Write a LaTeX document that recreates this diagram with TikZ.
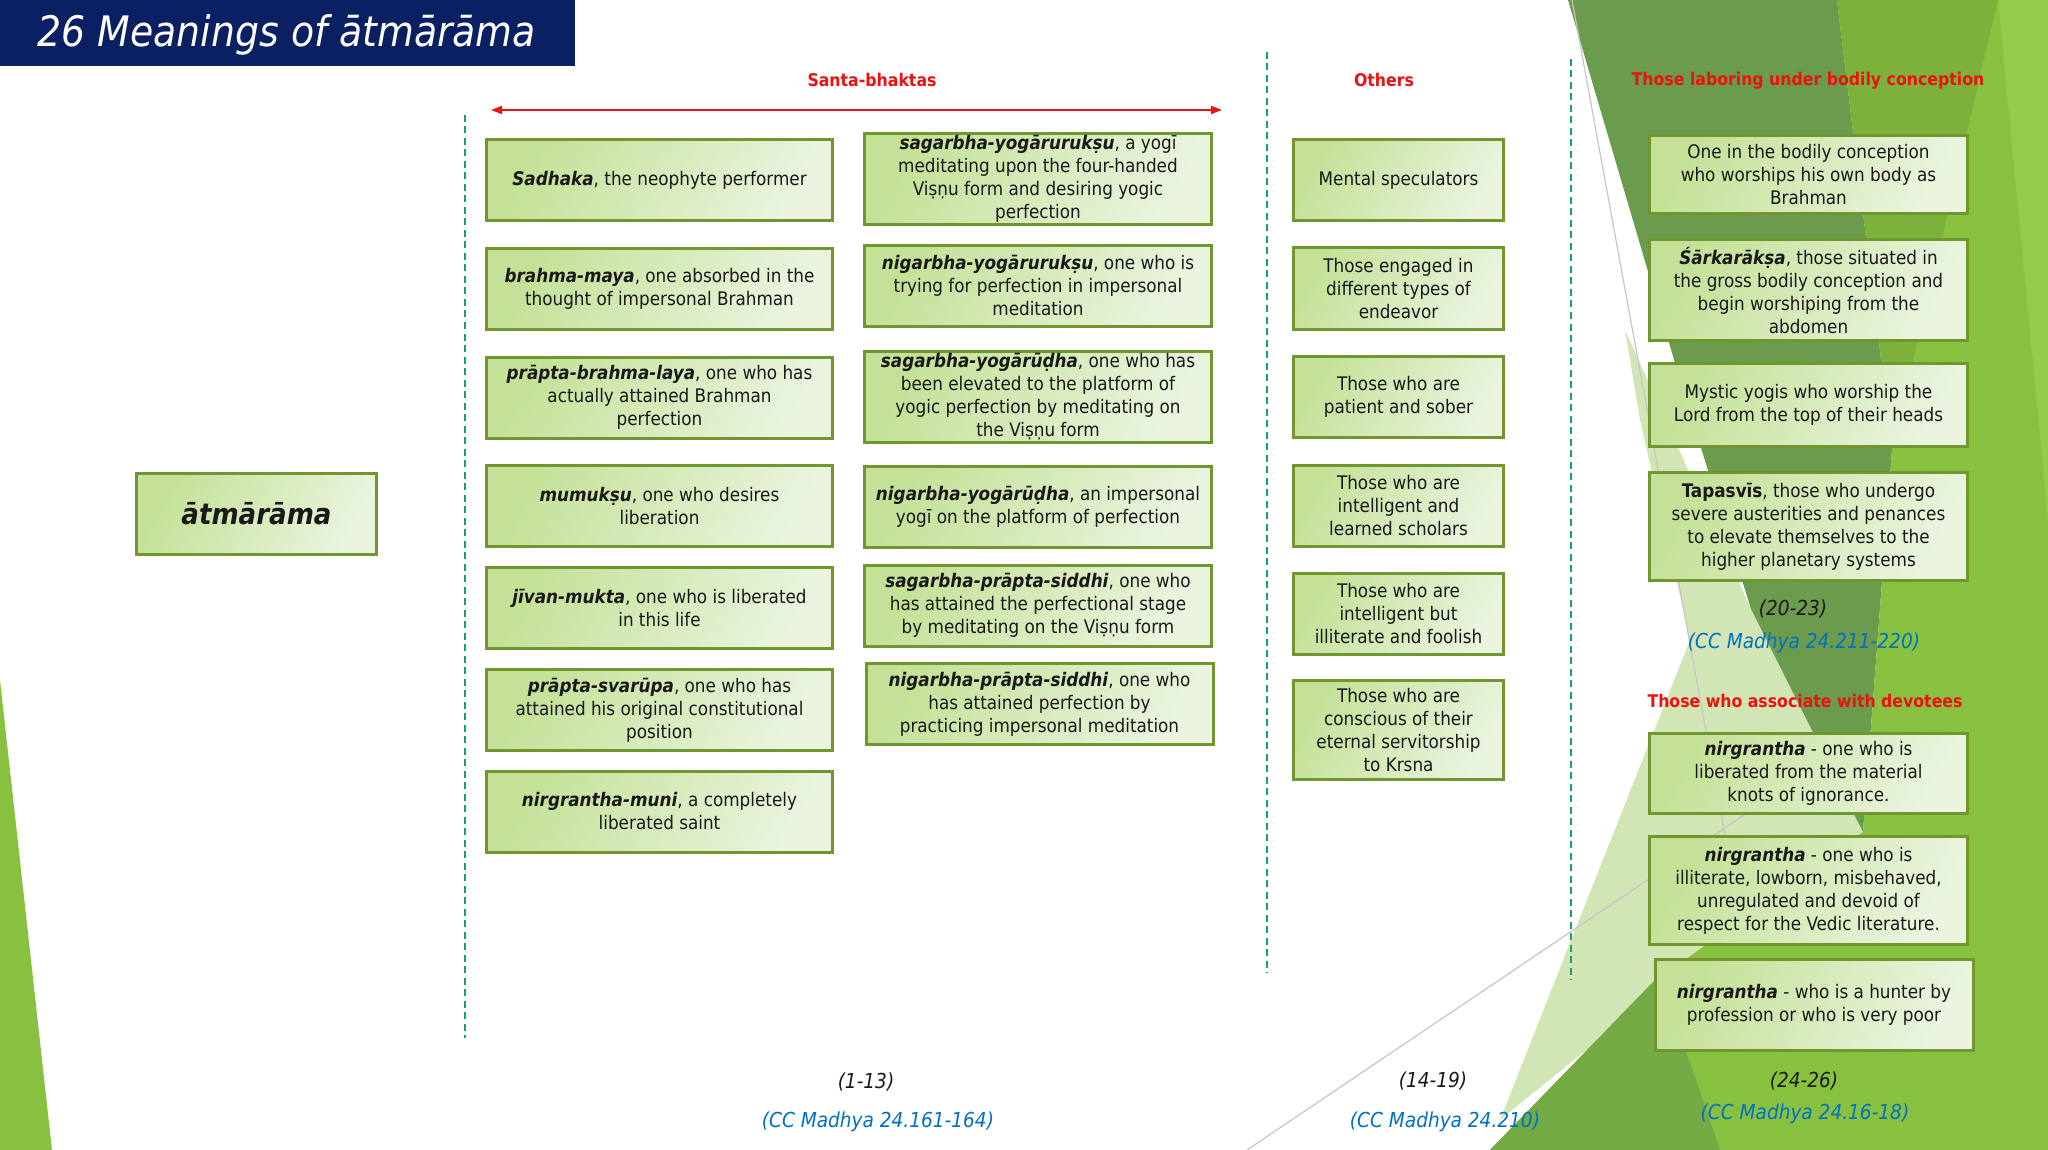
\documentclass[tikz,border=0pt]{standalone}
\usepackage{fontspec}
\IfFontExistsTF{DejaVu Sans Condensed}
 {\setmainfont{DejaVu Sans Condensed}}
 {\setmainfont{DejaVu Sans}[FakeStretch=0.9]}
\usetikzlibrary{arrows.meta}
\definecolor{navy}{HTML}{0B1F63}
\definecolor{bxborder}{HTML}{72962F}
\definecolor{bxA}{HTML}{C4E197}
\definecolor{bxB}{HTML}{EAF4DF}
\definecolor{redlbl}{HTML}{EE1111}
\definecolor{citeblue}{HTML}{0070C0}
\definecolor{dashg}{HTML}{12A56A}
\definecolor{gdark}{HTML}{6B9B4D}
\definecolor{gmid}{HTML}{7DB13C}
\definecolor{gmed}{HTML}{74AA44}
\definecolor{glime}{HTML}{88C13F}
\definecolor{glight}{HTML}{95CA4D}
\definecolor{gpale}{HTML}{D2E6B5}
\definecolor{gline}{HTML}{C6C6C6}
\newcommand{\skt}[1]{\textbf{\textit{#1}}}
\begin{document}
\begin{tikzpicture}[x=1pt,y=-1pt,
  box/.style={draw=bxborder, line width=3pt, left color=bxA, right color=bxB, shading angle=60,
    align=center, inner sep=2pt, text=black!90, font=\fontsize{18.7}{23}\selectfont},
  cola/.style={box, minimum width=346pt, minimum height=81pt},
  colb/.style={box, minimum width=347pt, minimum height=81pt},
  oth/.style={box, minimum width=210pt, minimum height=81pt},
  rgt/.style={box, minimum width=318pt},
  hdr/.style={text=redlbl, font=\fontsize{17.5}{21}\selectfont\bfseries},
  num/.style={text=black!90, font=\fontsize{20.6}{25}\selectfont\itshape},
  cit/.style={text=citeblue, font=\fontsize{20.6}{25}\selectfont\itshape},
  dline/.style={dashg, line width=2.5pt, dash pattern=on 7pt off 4.5pt},
  gray line/.style={gline, line width=1.2pt}
]
\useasboundingbox (0,0) rectangle (2048,1150);
\fill[white] (0,0) rectangle (2048,1150);

% background facets
\fill[glime] (0,680) -- (52,1150) -- (0,1150) -- cycle;
\fill[gpale] (1625,330) -- (1751,609) -- (1863,832) -- (1660,990) -- (1500,1120) -- (1575,930) -- (1690,640) -- (1640,420) -- cycle;
\fill[gdark] (1568,0) -- (1837,0) -- (1892,450) -- (1863,832) -- (1751,609) -- (1680,380) -- cycle;
\fill[glime] (1837,0) -- (2048,0) -- (2048,1150) -- (1490,1150) -- (1650,985) -- (1863,832) -- (1892,450) -- cycle;
\fill[gmid] (1837,0) -- (1998,0) -- (1892,450) -- cycle;
\fill[glight] (1998,0) -- (2048,0) -- (2048,520) -- cycle;
\fill[gmed] (1490,1150) -- (1660,975) -- (1720,1150) -- cycle;
\coordinate (g1a) at (1572,0);
\coordinate (g1b) at (1725,835);
\coordinate (g2a) at (1247,1150);
\coordinate (g2b) at (1747,813);
\draw[gray line] (g1a) -- (g1b);
\draw[gray line] (g2a) -- (g2b);

% title
\fill[navy] (0,0) rectangle (575,66);
\node[anchor=base, text=white, font=\fontsize{42}{48}\selectfont\itshape] (title) at (287,47) {26 Meanings of ātmārāma};

% dashed separators
\coordinate (d1t) at (465,115);  \coordinate (d1b) at (465,1038);
\coordinate (d2t) at (1267,52);  \coordinate (d2b) at (1267,973);
\coordinate (d3t) at (1571,59);  \coordinate (d3b) at (1571,980);
\draw[dline] (d1t) -- (d1b);
\draw[dline] (d2t) -- (d2b);
\draw[dline] (d3t) -- (d3b);

% headers
\node[hdr] (hsb) at (872,80) {Santa-bhaktas};
\node[hdr] (hoth) at (1384,80) {Others};
\node[hdr] (hbod) at (1808,81) {Those laboring under bodily conception};
\node[hdr] (hdev) at (1805,701) {Those who associate with devotees};
\coordinate (arrL) at (491,110);
\coordinate (arrR) at (1222,110);
\draw[redlbl, line width=1.8pt, {Triangle[length=11pt,width=8pt]}-{Triangle[length=11pt,width=8pt]}] (arrL) -- (arrR);

% atmarama
\node[box, minimum width=240pt, minimum height=81pt, font=\fontsize{29}{36}\selectfont\bfseries\itshape] (atma) at (256.5,514) {ātmārāma};

% column 1
\node[cola] (a1) at (659.5,180.5) {\skt{Sadhaka}, the neophyte performer};
\node[cola] (a2) at (659.5,289) {\skt{brahma-maya}, one absorbed in the\\thought of impersonal Brahman};
\node[cola] (a3) at (659.5,397.5) {\skt{prāpta-brahma-laya}, one who has\\actually attained Brahman\\perfection};
\node[cola] (a4) at (659.5,506) {\skt{mumukṣu}, one who desires\\liberation};
\node[cola] (a5) at (659.5,607.5) {\skt{jīvan-mukta}, one who is liberated\\in this life};
\node[cola] (a6) at (659.5,710) {\skt{prāpta-svarūpa}, one who has\\attained his original constitutional\\position};
\node[cola] (a7) at (659.5,811.5) {\skt{nirgrantha-muni}, a completely\\liberated saint};

% column 2
\node[colb] (b1) at (1038,179) {\skt{sagarbha-yogārurukṣu}, a yogī\\meditating upon the four-handed\\Viṣṇu form and desiring yogic\\perfection};
\node[colb] (b2) at (1038,286) {\skt{nigarbha-yogārurukṣu}, one who is\\trying for perfection in impersonal\\meditation};
\node[colb] (b3) at (1038,397) {\skt{sagarbha-yogārūḍha}, one who has\\been elevated to the platform of\\yogic perfection by meditating on\\the Viṣṇu form};
\node[colb] (b4) at (1038,506.5) {\skt{nigarbha-yogārūḍha}, an impersonal\\yogī on the platform of perfection};
\node[colb] (b5) at (1038,605.5) {\skt{sagarbha-prāpta-siddhi}, one who\\has attained the perfectional stage\\by meditating on the Viṣṇu form};
\node[colb] (b6) at (1039.5,704) {\skt{nigarbha-prāpta-siddhi}, one who\\has attained perfection by\\practicing impersonal meditation};

% others
\node[oth] (o1) at (1398.5,180) {Mental speculators};
\node[oth] (o2) at (1398.5,288.5) {Those engaged in\\different types of\\endeavor};
\node[oth] (o3) at (1398.5,397) {Those who are\\patient and sober};
\node[oth] (o4) at (1398.5,505.5) {Those who are\\intelligent and\\learned scholars};
\node[oth] (o5) at (1398.5,614) {Those who are\\intelligent but\\illiterate and foolish};
\node[oth, minimum height=99pt] (o6) at (1398.5,730) {Those who are\\conscious of their\\eternal servitorship\\to Krsna};

% right column
\node[rgt, minimum height=78pt] (r1) at (1808.5,174.5) {One in the bodily conception\\who worships his own body as\\Brahman};
\node[rgt, minimum height=101pt] (r2) at (1808.5,290) {\skt{Śārkarākṣa}, those situated in\\the gross bodily conception and\\begin worshiping from the\\abdomen};
\node[rgt, minimum height=83pt] (r3) at (1808.5,405) {Mystic yogis who worship the\\Lord from the top of their heads};
\node[rgt, minimum height=108pt] (r4) at (1808.5,526.5) {\textbf{Tapasvīs}, those who undergo\\severe austerities and penances\\to elevate themselves to the\\higher planetary systems};
\node[rgt, minimum height=80pt] (r5) at (1808.5,773.5) {\skt{nirgrantha} - one who is\\liberated from the material\\knots of ignorance.};
\node[rgt, minimum height=108pt] (r6) at (1808.5,890.5) {\skt{nirgrantha} - one who is\\illiterate, lowborn, misbehaved,\\unregulated and devoid of\\respect for the Vedic literature.};
\node[rgt, minimum height=91pt] (r7) at (1814,1005) {\skt{nirgrantha} - who is a hunter by\\profession or who is very poor};

% references
\node[num] (n1) at (866,1082) {(1-13)};
\node[cit] (c1) at (878,1122) {(CC Madhya 24.161-164)};
\node[num] (n2) at (1433,1081) {(14-19)};
\node[cit] (c2) at (1445,1122) {(CC Madhya 24.210)};
\node[num] (n3) at (1793,609) {(20-23)};
\node[cit] (c3) at (1804,643) {(CC Madhya 24.211-220)};
\node[num] (n4) at (1804,1081) {(24-26)};
\node[cit] (c4) at (1805,1114) {(CC Madhya 24.16-18)};
\end{tikzpicture}
\end{document}
